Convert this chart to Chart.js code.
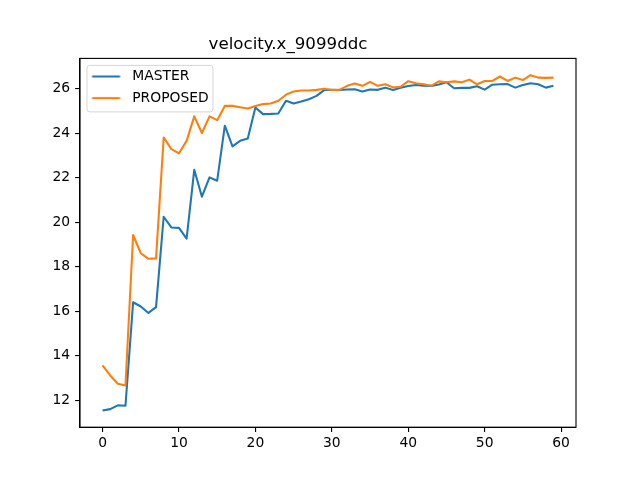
<!DOCTYPE html>
<html>
<head>
<meta charset="utf-8">
<script src="https://cdn.jsdelivr.net/npm/chart.js@4.4.1/dist/chart.umd.min.js"></script>
<style>
  html, body { margin: 0; padding: 0; background: #ffffff; }
  canvas { display: block; }
</style>
</head>
<body>
<canvas id="c" width="640" height="480"></canvas>
<script>
// ---- data ----
const chartTitle = 'velocity.x_9099ddc';
const seriesNames = ['MASTER', 'PROPOSED'];
const steps = [0,1,2,3,4,5,6,7,8,9,10,11,12,13,14,15,16,17,18,19,20,21,22,23,24,25,26,27,28,29,
               30,31,32,33,34,35,36,37,38,39,40,41,42,43,44,45,46,47,48,49,50,51,52,53,54,55,56,57,58,59];
const master = [11.55, 11.61, 11.78, 11.76, 16.41, 16.22, 15.93, 16.19, 20.25, 19.77,
                19.75, 19.27, 22.36, 21.15, 22.02, 21.87, 24.34, 23.41, 23.66, 23.77,
                25.16, 24.86, 24.87, 24.89, 25.46, 25.34, 25.43, 25.53, 25.68, 25.94,
                25.95, 25.94, 25.97, 25.98, 25.88, 25.97, 25.95, 26.05, 25.94, 26.04,
                26.12, 26.17, 26.14, 26.13, 26.19, 26.29, 26.02, 26.04, 26.04, 26.11,
                25.96, 26.18, 26.20, 26.21, 26.05, 26.17, 26.25, 26.20, 26.05, 26.13];
const proposed = [13.57, 13.12, 12.75, 12.67, 19.43, 18.61, 18.36, 18.38, 23.81, 23.29,
                  23.10, 23.66, 24.76, 24.01, 24.76, 24.59, 25.23, 25.23, 25.17, 25.11,
                  25.22, 25.31, 25.34, 25.46, 25.73, 25.88, 25.92, 25.92, 25.95, 26.00,
                  25.94, 25.95, 26.13, 26.24, 26.13, 26.31, 26.13, 26.20, 26.06, 26.09,
                  26.34, 26.25, 26.20, 26.13, 26.33, 26.29, 26.33, 26.29, 26.41, 26.20,
                  26.35, 26.35, 26.55, 26.35, 26.50, 26.39, 26.61, 26.50, 26.49, 26.50];
const xTicks = [0, 10, 20, 30, 40, 50, 60];
const yTicks = [12, 14, 16, 18, 20, 22, 24, 26];

// ---- styling ----
const colors = ['#1f77b4', '#ff7f0e'];
const FONT = 'DejaVu Sans';
const lineW = 2.08;

// axis limits with matplotlib-like 5% margins
const allY = master.concat(proposed);
const yMinD = Math.min(...allY), yMaxD = Math.max(...allY);
const yPad = (yMaxD - yMinD) * 0.05;
const xMinD = steps[0], xMaxD = steps[steps.length - 1];
const xPad = (xMaxD - xMinD) * 0.05;

// legend handle images (line segment with left gap)
function handleImg(color) {
  const c = document.createElement('canvas');
  c.width = 38; c.height = 6;
  const g = c.getContext('2d');
  g.strokeStyle = color; g.lineWidth = lineW; g.lineCap = 'butt';
  g.beginPath(); g.moveTo(4.6, 3); g.lineTo(32.6, 3); g.stroke();
  return c;
}
const handles = colors.map(handleImg);

const placeLegend = {
  id: 'placeLegend',
  afterLayout(chart) {
    const lg = chart.legend, ca = chart.chartArea;
    if (!lg) return;
    const h = lg.height;
    lg.top = ca.top + 3.45;
    lg.bottom = lg.top + h;
    lg.left = ca.left;
    lg.right = lg.left + lg.width;
  }
};
const frameLegend = {
  id: 'frameLegend',
  beforeDraw(chart) {
    const ca = chart.chartArea, ctx = chart.ctx;
    const x = ca.left + 7, y = ca.top + 7, w = 126, h = 46.5, r = 2.8;
    ctx.save();
    ctx.beginPath();
    ctx.moveTo(x + r, y);
    ctx.arcTo(x + w, y, x + w, y + h, r);
    ctx.arcTo(x + w, y + h, x, y + h, r);
    ctx.arcTo(x, y + h, x, y, r);
    ctx.arcTo(x, y, x + w, y, r);
    ctx.closePath();
    ctx.fillStyle = 'rgba(255,255,255,0.8)';
    ctx.fill();
    ctx.strokeStyle = 'rgba(204,204,204,0.8)';
    ctx.lineWidth = 1;
    ctx.stroke();
    ctx.restore();
  }
};
const axesBox = {
  id: 'axesBox',
  afterDraw(chart) {
    const ca = chart.chartArea, ctx = chart.ctx;
    ctx.save();
    ctx.strokeStyle = '#000';
    ctx.lineWidth = 1.1;
    ctx.strokeRect(ca.left, ca.top, ca.right - ca.left, ca.bottom - ca.top);
    ctx.restore();
  }
};

const toPts = arr => steps.map((s, i) => ({x: s, y: arr[i]}));

new Chart(document.getElementById('c'), {
  type: 'line',
  data: {
    datasets: [
      { label: seriesNames[0], data: toPts(master), borderColor: colors[0], backgroundColor: colors[0],
        borderWidth: lineW, pointRadius: 0, tension: 0, fill: false, order: 1,
        borderJoinStyle: 'round' },
      { label: seriesNames[1], data: toPts(proposed), borderColor: colors[1], backgroundColor: colors[1],
        borderWidth: lineW, pointRadius: 0, tension: 0, fill: false, order: 0,
        borderJoinStyle: 'round' }
    ]
  },
  options: {
    responsive: false,
    animation: false,
    devicePixelRatio: 1,
    layout: { padding: { left: 0, right: 64, top: 0, bottom: 0 } },
    plugins: {
      title: {
        display: true, text: chartTitle, color: '#000',
        font: { family: FONT, size: 16.67, weight: 'normal' },
        padding: { top: 34.4, bottom: 4 }
      },
      legend: {
        position: 'chartArea', align: 'start',
        labels: {
          color: '#000',
          font: { family: FONT, size: 13.89 },
          usePointStyle: true,
          pointStyleWidth: 37.6,
          padding: 7.7,
          sort: (a, b) => a.datasetIndex - b.datasetIndex,
          generateLabels(chart) {
            const items = Chart.defaults.plugins.legend.labels.generateLabels(chart);
            items.forEach(it => { it.pointStyle = handles[it.datasetIndex]; });
            return items;
          }
        }
      },
      tooltip: { enabled: false }
    },
    scales: {
      x: {
        type: 'linear',
        min: xMinD - xPad, max: xMaxD + xPad,
        afterBuildTicks: s => { s.ticks = xTicks.map(v => ({value: v})); },
        afterFit: s => { s.height = 52.8; },
        grid: { display: true, drawOnChartArea: false, drawTicks: true, tickLength: 4.9, color: '#000', lineWidth: 1.1 },
        border: { display: true, color: '#000', width: 1.1 },
        ticks: { color: '#000', font: { family: FONT, size: 13.89 }, padding: 3, maxRotation: 0, autoSkip: false }
      },
      y: {
        type: 'linear',
        min: yMinD - yPad, max: yMaxD + yPad,
        afterBuildTicks: s => { s.ticks = yTicks.map(v => ({value: v})); },
        afterFit: s => { s.width = 80; },
        grid: { display: true, drawOnChartArea: false, drawTicks: true, tickLength: 4.9, color: '#000', lineWidth: 1.1 },
        border: { display: true, color: '#000', width: 1.1 },
        ticks: { color: '#000', font: { family: FONT, size: 13.89 }, padding: 4.9, autoSkip: false }
      }
    }
  },
  plugins: [placeLegend, frameLegend, axesBox]
});
</script>
</body>
</html>
